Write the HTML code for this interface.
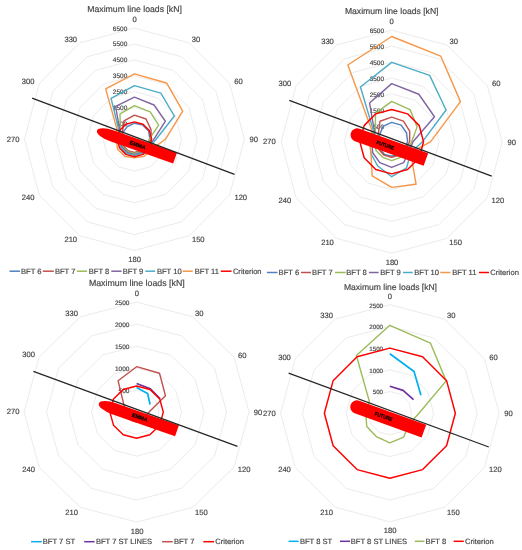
<!DOCTYPE html>
<html><head><meta charset="utf-8"><style>
html,body{margin:0;padding:0;background:#fff;width:522px;height:550px;overflow:hidden}
svg{display:block;text-rendering:geometricPrecision}
</style></head><body>
<svg width="522" height="550" viewBox="0 0 522 550">
<style>text{font-family:"Liberation Sans", Arial, sans-serif;fill:#474747;stroke:#474747;stroke-width:0.18px}.cl{font-size:7.6px;text-anchor:middle}.vl{font-size:6.5px;text-anchor:end}.lg{font-size:7.6px}.tt{text-anchor:middle}.sh{font-weight:bold;fill:#000;stroke:#000;stroke-width:0.2px;text-anchor:middle}</style>
<polygon points="134.45,123.41 142.3,125.54 148.05,131.36 150.16,139.3 148.05,147.24 142.3,153.06 134.45,155.19 126.6,153.06 120.85,147.24 118.74,139.3 120.85,131.36 126.6,125.54" fill="none" stroke="#E6E6E6" stroke-width="0.8"/>
<polygon points="134.45,107.53 150.16,111.79 161.66,123.41 165.86,139.3 161.66,155.19 150.16,166.81 134.45,171.07 118.74,166.81 107.24,155.19 103.04,139.3 107.24,123.41 118.74,111.79" fill="none" stroke="#E6E6E6" stroke-width="0.8"/>
<polygon points="134.45,91.64 158.01,98.03 175.26,115.47 181.57,139.3 175.26,163.13 158.01,180.57 134.45,186.96 110.89,180.57 93.64,163.13 87.33,139.3 93.64,115.47 110.89,98.03" fill="none" stroke="#E6E6E6" stroke-width="0.8"/>
<polygon points="134.45,75.76 165.86,84.27 188.86,107.53 197.28,139.3 188.86,171.07 165.86,194.33 134.45,202.84 103.04,194.33 80.04,171.07 71.62,139.3 80.04,107.53 103.04,84.27" fill="none" stroke="#E6E6E6" stroke-width="0.8"/>
<polygon points="134.45,59.87 173.72,70.51 202.46,99.59 212.99,139.3 202.46,179.01 173.72,208.09 134.45,218.73 95.18,208.09 66.44,179.01 55.91,139.3 66.44,99.59 95.18,70.51" fill="none" stroke="#E6E6E6" stroke-width="0.8"/>
<polygon points="134.45,43.99 181.57,56.76 216.07,91.64 228.69,139.3 216.07,186.96 181.57,221.84 134.45,234.61 87.33,221.84 52.83,186.96 40.21,139.3 52.83,91.64 87.33,56.76" fill="none" stroke="#E6E6E6" stroke-width="0.8"/>
<polygon points="134.45,28.1 189.42,43 229.67,83.7 244.4,139.3 229.67,194.9 189.42,235.6 134.45,250.5 79.47,235.6 39.23,194.9 24.5,139.3 39.23,83.7 79.47,43" fill="none" stroke="#E6E6E6" stroke-width="0.8"/>
<text x="134.55" y="21.6" class="cl">0</text>
<text x="196.05" y="41.6" class="cl">30</text>
<text x="238.55" y="83.9" class="cl">60</text>
<text x="253.65" y="142.1" class="cl">90</text>
<text x="240.75" y="199.8" class="cl">120</text>
<text x="198.25" y="242.3" class="cl">150</text>
<text x="134.65" y="262.3" class="cl">180</text>
<text x="70.75" y="242.2" class="cl">210</text>
<text x="28.15" y="200" class="cl">240</text>
<text x="13.15" y="142" class="cl">270</text>
<text x="28.15" y="83.9" class="cl">300</text>
<text x="70.75" y="41.7" class="cl">330</text>
<text x="127.25" y="125.91" class="vl" style="font-size:6.5px">500</text>
<text x="127.25" y="110.03" class="vl" style="font-size:6.5px">1500</text>
<text x="127.25" y="94.14" class="vl" style="font-size:6.5px">2500</text>
<text x="127.25" y="78.26" class="vl" style="font-size:6.5px">3500</text>
<text x="127.25" y="62.37" class="vl" style="font-size:6.5px">4500</text>
<text x="127.25" y="46.49" class="vl" style="font-size:6.5px">5500</text>
<text x="127.25" y="30.6" class="vl" style="font-size:6.5px">6500</text>
<text x="134.55" y="11.5" class="tt" style="font-size:8.7px">Maximum line loads [kN]</text>
<polygon points="134.45,123.21 142.65,124.93 148.66,131 149.86,139.3 146.51,146.34 141.16,151.06 134.45,152.88 127.74,151.06 122.82,146.09 121.03,139.3 122.82,132.51 127.24,126.67" fill="none" stroke="#4F81BD" stroke-width="1.4" stroke-linejoin="round"/>
<polygon points="134.45,115.2 146.03,119.02 150.99,129.64 151.35,139.3 146.51,146.34 140.91,150.62 134.45,152.37 127.99,150.62 123.26,145.84 121.52,139.3 122.39,132.26 123.98,120.95" fill="none" stroke="#C0504D" stroke-width="1.4" stroke-linejoin="round"/>
<polygon points="134.45,105.7 150.14,111.82 158.69,125.15 149.1,139.3 147.37,146.84 141.41,151.49 134.45,153.38 127.49,151.49 122.39,146.34 120.53,139.3 120.33,131.05 119.99,113.97" fill="none" stroke="#9BBB59" stroke-width="1.4" stroke-linejoin="round"/>
<polygon points="134.45,97.1 154.04,104.99 165.4,121.23 153.8,139.3 148.23,147.35 141.91,152.36 134.45,154.38 126.99,152.36 121.53,146.84 119.53,139.3 119.81,130.75 115.63,106.34" fill="none" stroke="#8064A2" stroke-width="1.4" stroke-linejoin="round"/>
<polygon points="134.45,85.6 160.83,93.09 174.36,116 156.1,139.3 149.09,147.85 142.4,153.23 134.45,155.39 126.5,153.23 120.67,147.35 118.54,139.3 118.95,130.25 111.07,98.34" fill="none" stroke="#4BACC6" stroke-width="1.4" stroke-linejoin="round"/>
<polygon points="134.45,73.8 166.61,82.97 182.7,111.13 165.4,139.3 151.67,149.36 144.14,156.28 134.45,157.9 124.76,156.28 117.57,149.16 116.05,139.3 116.98,129.1 105.63,88.82" fill="none" stroke="#F79646" stroke-width="1.4" stroke-linejoin="round"/>
<polygon points="134.45,121.9 143.05,124.23 149.35,130.6 151.65,139.3 149.35,148 143.05,154.37 134.45,156.7 125.85,154.37 119.55,148 117.25,139.3 119.55,130.6 125.85,124.23" fill="none" stroke="#FF0000" stroke-width="1.45" stroke-linejoin="round"/>
<path d="M16,-5.75 L82.79,-5.75 L82.79,5.75 L16,5.75 A16,5.75 0 0 1 16,-5.75 Z" fill="#FF0000" transform="translate(97,130.6) rotate(19.47)"/>
<text x="0" y="0" class="sh" style="font-size:5.4px" transform="translate(137.7,144.9) rotate(19.47)" dy="1.94">EMMA</text>
<line x1="32.1" y1="98.2" x2="234.5" y2="174.4" stroke="#262626" stroke-width="1.3" stroke-linecap="butt"/>
<line x1="9.5" y1="271.2" x2="20" y2="271.2" stroke="#4F81BD" stroke-width="1.5"/>
<text x="21" y="273.8" class="lg">BFT 6</text>
<line x1="42.8" y1="271.2" x2="53.8" y2="271.2" stroke="#C0504D" stroke-width="1.5"/>
<text x="54.9" y="273.8" class="lg">BFT 7</text>
<line x1="76.8" y1="271.2" x2="87.1" y2="271.2" stroke="#9BBB59" stroke-width="1.5"/>
<text x="88.7" y="273.8" class="lg">BFT 8</text>
<line x1="111.3" y1="271.2" x2="121.6" y2="271.2" stroke="#8064A2" stroke-width="1.5"/>
<text x="122.8" y="273.8" class="lg">BFT 9</text>
<line x1="145.3" y1="271.2" x2="155.1" y2="271.2" stroke="#4BACC6" stroke-width="1.5"/>
<text x="156.9" y="273.8" class="lg">BFT 10</text>
<line x1="182.7" y1="271.2" x2="192.7" y2="271.2" stroke="#F79646" stroke-width="1.5"/>
<text x="194.7" y="273.8" class="lg">BFT 11</text>
<line x1="220.8" y1="271.2" x2="231.6" y2="271.2" stroke="#FF0000" stroke-width="1.5"/>
<text x="232.9" y="273.8" class="lg">Criterion</text>
<polygon points="391.7,125.76 399.59,127.9 405.37,133.73 407.49,141.7 405.37,149.67 399.59,155.5 391.7,157.64 383.81,155.5 378.03,149.67 375.91,141.7 378.03,133.73 383.81,127.9" fill="none" stroke="#E6E6E6" stroke-width="0.8"/>
<polygon points="391.7,109.83 407.49,114.1 419.04,125.76 423.27,141.7 419.04,157.64 407.49,169.3 391.7,173.57 375.91,169.3 364.36,157.64 360.13,141.7 364.36,125.76 375.91,114.1" fill="none" stroke="#E6E6E6" stroke-width="0.8"/>
<polygon points="391.7,93.89 415.38,100.3 432.71,117.8 439.06,141.7 432.71,165.6 415.38,183.1 391.7,189.51 368.02,183.1 350.69,165.6 344.34,141.7 350.69,117.8 368.02,100.3" fill="none" stroke="#E6E6E6" stroke-width="0.8"/>
<polygon points="391.7,77.96 423.27,86.5 446.38,109.83 454.84,141.7 446.38,173.57 423.27,196.9 391.7,205.44 360.13,196.9 337.02,173.57 328.56,141.7 337.02,109.83 360.13,86.5" fill="none" stroke="#E6E6E6" stroke-width="0.8"/>
<polygon points="391.7,62.02 431.16,72.7 460.05,101.86 470.63,141.7 460.05,181.54 431.16,210.7 391.7,221.38 352.24,210.7 323.35,181.54 312.77,141.7 323.35,101.86 352.24,72.7" fill="none" stroke="#E6E6E6" stroke-width="0.8"/>
<polygon points="391.7,46.09 439.06,58.9 473.72,93.89 486.41,141.7 473.72,189.51 439.06,224.5 391.7,237.31 344.34,224.5 309.68,189.51 296.99,141.7 309.68,93.89 344.34,58.9" fill="none" stroke="#E6E6E6" stroke-width="0.8"/>
<polygon points="391.7,30.15 446.95,45.09 487.4,85.92 502.2,141.7 487.4,197.47 446.95,238.31 391.7,253.25 336.45,238.31 296,197.48 281.2,141.7 296,85.92 336.45,45.09" fill="none" stroke="#E6E6E6" stroke-width="0.8"/>
<text x="391.5" y="23.85" class="cl">0</text>
<text x="453.7" y="44.05" class="cl">30</text>
<text x="496.2" y="86.15" class="cl">60</text>
<text x="511.8" y="144.8" class="cl">90</text>
<text x="497.9" y="203.3" class="cl">120</text>
<text x="455.7" y="245.1" class="cl">150</text>
<text x="392" y="264.75" class="cl">180</text>
<text x="327.5" y="244.55" class="cl">210</text>
<text x="284.9" y="202.75" class="cl">240</text>
<text x="269.4" y="144.3" class="cl">270</text>
<text x="284.9" y="86.15" class="cl">300</text>
<text x="327.5" y="44.05" class="cl">330</text>
<text x="384.1" y="129.06" class="vl" style="font-size:6.5px">500</text>
<text x="384.1" y="113.13" class="vl" style="font-size:6.5px">1500</text>
<text x="384.1" y="97.19" class="vl" style="font-size:6.5px">2500</text>
<text x="384.1" y="81.26" class="vl" style="font-size:6.5px">3500</text>
<text x="384.1" y="65.32" class="vl" style="font-size:6.5px">4500</text>
<text x="384.1" y="49.39" class="vl" style="font-size:6.5px">5500</text>
<text x="384.1" y="33.45" class="vl" style="font-size:6.5px">6500</text>
<text x="391.7" y="14" class="tt" style="font-size:8.6px">Maximum line loads [kN]</text>
<polygon points="391.7,122.36 401.16,125.17 406.61,133.01 407.62,141.7 404.63,149.24 398.92,154.32 391.7,156.27 384.48,154.32 379.63,148.73 378.26,141.7 379.63,134.67 382.99,126.47" fill="none" stroke="#4F81BD" stroke-width="1.4" stroke-linejoin="round"/>
<polygon points="391.7,117.18 403.44,121.17 409.71,131.2 409.61,141.7 405.49,149.74 399.41,155.19 391.7,157.27 383.99,155.19 378.77,149.24 376.77,141.7 378.34,133.91 380.01,121.25" fill="none" stroke="#C0504D" stroke-width="1.4" stroke-linejoin="round"/>
<polygon points="391.7,101.4 410.04,109.63 417.13,126.88 411.61,141.7 407.21,150.74 400.66,157.36 391.7,160.54 382.74,157.36 376.19,150.74 373.79,141.7 375.32,132.16 375.47,113.32" fill="none" stroke="#9BBB59" stroke-width="1.4" stroke-linejoin="round"/>
<polygon points="391.7,83.6 418.84,94.25 434.48,116.77 413,141.7 408.94,151.75 403.64,162.58 391.7,167.47 379.76,162.58 372.74,152.75 371.79,141.7 374.46,131.65 369.54,102.95" fill="none" stroke="#8064A2" stroke-width="1.4" stroke-linejoin="round"/>
<polygon points="391.7,62.4 429.64,75.37 446.07,110.01 422.5,141.7 410.66,152.75 406.63,167.8 391.7,176.71 377.77,166.06 371.01,153.76 369.8,141.7 373.6,131.15 360.44,87.04" fill="none" stroke="#4BACC6" stroke-width="1.4" stroke-linejoin="round"/>
<polygon points="391.7,36.5 440.69,56.04 460.46,101.63 430.65,141.7 410.66,152.75 416.07,184.3 391.7,187.4 372.16,175.87 371.01,153.76 369.8,141.7 371.88,130.15 347.84,65" fill="none" stroke="#F79646" stroke-width="1.4" stroke-linejoin="round"/>
<polygon points="391.7,109.55 407.62,113.86 419.28,125.62 423.55,141.7 419.28,157.78 407.62,169.54 391.7,173.85 375.78,169.54 364.12,157.78 359.85,141.7 364.12,125.62 375.78,113.86" fill="none" stroke="#FF0000" stroke-width="1.45" stroke-linejoin="round"/>
<path d="M6.65,-6.65 L79.68,-6.65 L79.68,6.65 L6.65,6.65 A6.65,6.65 0 0 1 6.65,-6.65 Z" fill="#FF0000" transform="translate(350.9,132.7) rotate(19.73)"/>
<text x="0" y="0" class="sh" style="font-size:5.1px" transform="translate(385.3,145.1) rotate(19.73)" dy="1.84" textLength="18.3" lengthAdjust="spacingAndGlyphs">FUTURE</text>
<line x1="289.3" y1="100.3" x2="491.7" y2="176.1" stroke="#262626" stroke-width="1.3" stroke-linecap="butt"/>
<line x1="266.9" y1="272.5" x2="277.5" y2="272.5" stroke="#4F81BD" stroke-width="1.5"/>
<text x="278.6" y="275.1" class="lg">BFT 6</text>
<line x1="301" y1="272.5" x2="311" y2="272.5" stroke="#C0504D" stroke-width="1.5"/>
<text x="312.1" y="275.1" class="lg">BFT 7</text>
<line x1="335" y1="272.5" x2="345.7" y2="272.5" stroke="#9BBB59" stroke-width="1.5"/>
<text x="346.2" y="275.1" class="lg">BFT 8</text>
<line x1="368.9" y1="272.5" x2="378.6" y2="272.5" stroke="#8064A2" stroke-width="1.5"/>
<text x="380.2" y="275.1" class="lg">BFT 9</text>
<line x1="403" y1="272.5" x2="412.8" y2="272.5" stroke="#4BACC6" stroke-width="1.5"/>
<text x="414.2" y="275.1" class="lg">BFT 10</text>
<line x1="440.3" y1="272.5" x2="450.4" y2="272.5" stroke="#F79646" stroke-width="1.5"/>
<text x="452.2" y="275.1" class="lg">BFT 11</text>
<line x1="478.9" y1="272.5" x2="489" y2="272.5" stroke="#FF0000" stroke-width="1.5"/>
<text x="490.3" y="275.1" class="lg">Criterion</text>
<polygon points="136.6,390.1 147.85,393.05 156.09,401.1 159.1,412.1 156.09,423.1 147.85,431.15 136.6,434.1 125.35,431.15 117.11,423.1 114.1,412.1 117.11,401.1 125.35,393.05" fill="none" stroke="#E6E6E6" stroke-width="0.8"/>
<polygon points="136.6,368.1 159.1,373.99 175.57,390.1 181.6,412.1 175.57,434.1 159.1,450.21 136.6,456.1 114.1,450.21 97.63,434.1 91.6,412.1 97.63,390.1 114.1,373.99" fill="none" stroke="#E6E6E6" stroke-width="0.8"/>
<polygon points="136.6,346.1 170.35,354.94 195.06,379.1 204.1,412.1 195.06,445.1 170.35,469.26 136.6,478.1 102.85,469.26 78.14,445.1 69.1,412.1 78.14,379.1 102.85,354.94" fill="none" stroke="#E6E6E6" stroke-width="0.8"/>
<polygon points="136.6,324.1 181.6,335.89 214.54,368.1 226.6,412.1 214.54,456.1 181.6,488.31 136.6,500.1 91.6,488.31 58.66,456.1 46.6,412.1 58.66,368.1 91.6,335.89" fill="none" stroke="#E6E6E6" stroke-width="0.8"/>
<polygon points="136.6,302.1 192.85,316.84 234.03,357.1 249.1,412.1 234.03,467.1 192.85,507.36 136.6,522.1 80.35,507.36 39.17,467.1 24.1,412.1 39.17,357.1 80.35,316.84" fill="none" stroke="#E6E6E6" stroke-width="0.8"/>
<text x="136.8" y="295.6" class="cl">0</text>
<text x="199.2" y="315.7" class="cl">30</text>
<text x="242.2" y="357.8" class="cl">60</text>
<text x="258" y="414.6" class="cl">90</text>
<text x="244.2" y="472.4" class="cl">120</text>
<text x="201.3" y="514.6" class="cl">150</text>
<text x="137.1" y="533.9" class="cl">180</text>
<text x="71.6" y="514.6" class="cl">210</text>
<text x="28.6" y="471.6" class="cl">240</text>
<text x="13.1" y="414.4" class="cl">270</text>
<text x="28.6" y="357" class="cl">300</text>
<text x="71.6" y="315.7" class="cl">330</text>
<text x="129.4" y="393.2" class="vl" style="font-size:6.5px">500</text>
<text x="129.4" y="371.2" class="vl" style="font-size:6.5px">1000</text>
<text x="129.4" y="349.2" class="vl" style="font-size:6.5px">1500</text>
<text x="129.4" y="327.2" class="vl" style="font-size:6.5px">2000</text>
<text x="129.4" y="305.2" class="vl" style="font-size:6.5px">2500</text>
<text x="136.8" y="285.8" class="tt" style="font-size:8.8px">Maximum line loads [kN]</text>
<polyline points="136.6,387.49 147.59,393.49 150.07,404.5" fill="none" stroke="#00B0F0" stroke-width="1.7" stroke-linejoin="round"/>
<polyline points="136.6,383.5 150.34,388.82 160.22,398.77" fill="none" stroke="#7030A0" stroke-width="1.7" stroke-linejoin="round"/>
<polygon points="136.6,366.7 159.51,373.29 165.47,395.8 149.04,412.1 145.36,417.04 141.66,420.66 136.6,421.99 131.54,420.66 127.84,417.04 126.49,412.1 123.91,404.93 118.11,380.79" fill="none" stroke="#C0504D" stroke-width="1.4" stroke-linejoin="round"/>
<polygon points="136.6,386 149.95,389.49 159.72,399.05 163.3,412.1 159.72,425.15 149.95,434.71 136.6,438.2 123.25,434.71 113.48,425.15 109.9,412.1 113.48,399.05 123.25,389.49" fill="none" stroke="#FF0000" stroke-width="1.45" stroke-linejoin="round"/>
<path d="M16,-5.85 L82.78,-5.85 L82.78,5.85 L16,5.85 A16,5.85 0 0 1 16,-5.85 Z" fill="#FF0000" transform="translate(98.9,403.4) rotate(19.37)"/>
<text x="0" y="0" class="sh" style="font-size:5.4px" transform="translate(139.9,417.3) rotate(19.37)" dy="1.94">EMMA</text>
<line x1="33.4" y1="371.3" x2="237.5" y2="446.3" stroke="#262626" stroke-width="1.3" stroke-linecap="butt"/>
<line x1="31.1" y1="541.7" x2="41.8" y2="541.7" stroke="#00B0F0" stroke-width="1.5"/>
<text x="42.8" y="544.3" class="lg">BFT 7 ST</text>
<line x1="84.2" y1="541.7" x2="94.6" y2="541.7" stroke="#7030A0" stroke-width="1.5"/>
<text x="95.9" y="544.3" class="lg">BFT 7 ST LINES</text>
<line x1="162.1" y1="541.7" x2="172.7" y2="541.7" stroke="#C0504D" stroke-width="1.5"/>
<text x="173.9" y="544.3" class="lg">BFT 7</text>
<line x1="203.3" y1="541.7" x2="214.1" y2="541.7" stroke="#FF0000" stroke-width="1.5"/>
<text x="215.3" y="544.3" class="lg">Criterion</text>
<polygon points="389.85,391.48 400.78,394.39 408.77,402.34 411.7,413.2 408.77,424.06 400.78,432.01 389.85,434.92 378.93,432.01 370.93,424.06 368,413.2 370.93,402.34 378.93,394.39" fill="none" stroke="#E6E6E6" stroke-width="0.8"/>
<polygon points="389.85,369.76 411.7,375.58 427.7,391.48 433.55,413.2 427.7,434.92 411.7,450.82 389.85,456.64 368,450.82 352,434.92 346.15,413.2 352,391.48 368,375.58" fill="none" stroke="#E6E6E6" stroke-width="0.8"/>
<polygon points="389.85,348.04 422.62,356.77 446.62,380.62 455.4,413.2 446.62,445.78 422.62,469.63 389.85,478.36 357.08,469.63 333.08,445.78 324.3,413.2 333.08,380.62 357.07,356.77" fill="none" stroke="#E6E6E6" stroke-width="0.8"/>
<polygon points="389.85,326.32 433.55,337.96 465.54,369.76 477.25,413.2 465.54,456.64 433.55,488.44 389.85,500.08 346.15,488.44 314.16,456.64 302.45,413.2 314.16,369.76 346.15,337.96" fill="none" stroke="#E6E6E6" stroke-width="0.8"/>
<polygon points="389.85,304.6 444.48,319.15 484.46,358.9 499.1,413.2 484.46,467.5 444.48,507.25 389.85,521.8 335.23,507.25 295.24,467.5 280.6,413.2 295.24,358.9 335.22,319.15" fill="none" stroke="#E6E6E6" stroke-width="0.8"/>
<text x="389.9" y="298.6" class="cl">0</text>
<text x="451.2" y="318.1" class="cl">30</text>
<text x="493.4" y="359.9" class="cl">60</text>
<text x="508.5" y="415.9" class="cl">90</text>
<text x="495.4" y="472.4" class="cl">120</text>
<text x="453.3" y="514.6" class="cl">150</text>
<text x="390.2" y="533.3" class="cl">180</text>
<text x="326.6" y="514.6" class="cl">210</text>
<text x="284.5" y="472.4" class="cl">240</text>
<text x="269.4" y="415.9" class="cl">270</text>
<text x="284.5" y="359.9" class="cl">300</text>
<text x="326.6" y="318.1" class="cl">330</text>
<text x="383.05" y="394.48" class="vl" style="font-size:6.2px">500</text>
<text x="383.05" y="372.76" class="vl" style="font-size:6.2px">1000</text>
<text x="383.05" y="351.04" class="vl" style="font-size:6.2px">1500</text>
<text x="383.05" y="329.32" class="vl" style="font-size:6.2px">2000</text>
<text x="383.05" y="307.6" class="vl" style="font-size:6.2px">2500</text>
<text x="390.45" y="289.5" class="tt" style="font-size:8.55px">Maximum line loads [kN]</text>
<polyline points="389.85,353.7 414.04,371.55 420.93,395.36" fill="none" stroke="#00B0F0" stroke-width="1.7" stroke-linejoin="round"/>
<polyline points="389.85,386.2 403.08,390.43 413.53,399.61" fill="none" stroke="#7030A0" stroke-width="1.7" stroke-linejoin="round"/>
<polygon points="389.85,325.3 430.5,343.21 446.16,380.88 418.98,413.2 409.03,424.21 403.69,437.04 389.85,442.81 376.27,436.58 366.75,426.46 365.78,413.2 369.35,401.43 356.37,355.56" fill="none" stroke="#9BBB59" stroke-width="1.4" stroke-linejoin="round"/>
<polygon points="389.85,348.09 422.6,356.82 446.57,380.65 455.34,413.2 446.57,445.75 422.6,469.58 389.85,478.31 357.1,469.58 333.13,445.75 324.36,413.2 333.13,380.65 357.1,356.82" fill="none" stroke="#FF0000" stroke-width="1.45" stroke-linejoin="round"/>
<path d="M6.75,-6.75 L77.91,-6.75 L77.91,6.75 L6.75,6.75 A6.75,6.75 0 0 1 6.75,-6.75 Z" fill="#FF0000" transform="translate(350.6,404.7) rotate(19.81)"/>
<text x="0" y="0" class="sh" style="font-size:5.1px" transform="translate(383.6,416.4) rotate(19.81)" dy="1.84" textLength="18.3" lengthAdjust="spacingAndGlyphs">FUTURE</text>
<line x1="288.6" y1="373.2" x2="488.8" y2="447" stroke="#262626" stroke-width="1.3" stroke-linecap="butt"/>
<line x1="288.6" y1="541.3" x2="298.6" y2="541.3" stroke="#00B0F0" stroke-width="1.5"/>
<text x="299.9" y="543.9" class="lg">BFT 8 ST</text>
<line x1="340" y1="541.3" x2="350.1" y2="541.3" stroke="#7030A0" stroke-width="1.5"/>
<text x="350.8" y="543.9" class="lg">BFT 8 ST LINES</text>
<line x1="414.8" y1="541.3" x2="424.4" y2="541.3" stroke="#9BBB59" stroke-width="1.5"/>
<text x="425.6" y="543.9" class="lg">BFT 8</text>
<line x1="453.7" y1="541.3" x2="463.8" y2="541.3" stroke="#FF0000" stroke-width="1.5"/>
<text x="465" y="543.9" class="lg">Criterion</text>
</svg>
</body></html>
